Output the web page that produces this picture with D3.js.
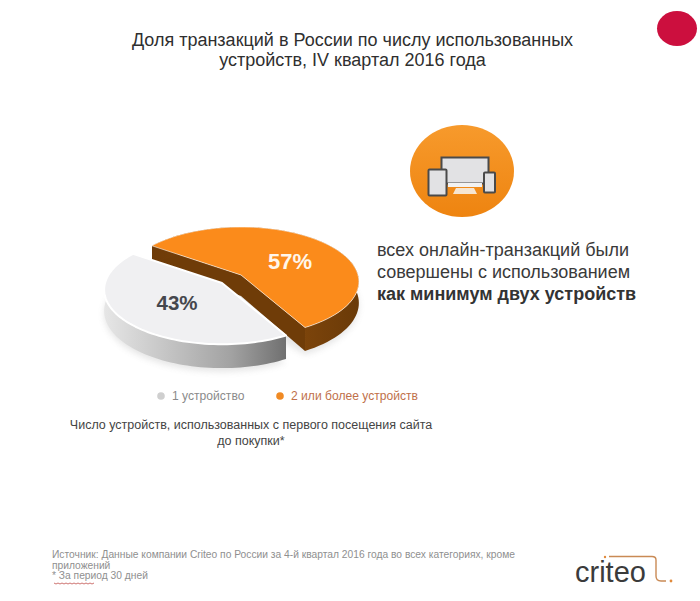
<!DOCTYPE html>
<html><head><meta charset="utf-8">
<script src="https://cdn.jsdelivr.net/npm/d3@7"></script>
<style>html,body{margin:0;padding:0;background:#fff}svg{display:block}text{font-family:"Liberation Sans",Arial,sans-serif}</style>
</head><body><svg id="c" width="700" height="601"></svg>
<script>
const categories = ["2 или более устройств", "1 устройство"];
const values = [57, 43];
const valueLabels = ["57%", "43%"];
const titleLines = ["Доля транзакций в России по числу использованных", "устройств, IV квартал 2016 года"];
const calloutLines = ["всех онлайн-транзакций были", "совершены с использованием", "как минимум двух устройств"];
const captionLines = ["Число устройств, использованных с первого посещения сайта", "до покупки*"];
const sourceLines = ["Источник: Данные компании Criteo по России за 4-й квартал 2016 года во всех категориях, кроме", "приложений", "* За период 30 дней"];

const svg = d3.select("#c");
const defs = svg.append("defs");
function grad(id, stops, x2=1, y2=0){
  const g = defs.append("linearGradient").attr("id",id).attr("x1",0).attr("y1",0).attr("x2",x2).attr("y2",y2);
  stops.forEach(s=>g.append("stop").attr("offset",s[0]).attr("stop-color",s[1]));
}
grad("wallGrey",[[0,"#e6e6e6"],[.3,"#c9c9c9"],[.7,"#a2a2a2"],[1,"#707070"]]);
grad("wallBrown",[[0,"#6e3b08"],[.6,"#85490c"],[1,"#6a3a08"]]);
grad("iconFill",[[0,"#f79a2c"],[1,"#ee8410"]],0,1);
defs.append("filter").attr("id","soft").append("feGaussianBlur").attr("stdDeviation",3);

// pie projected to a tilted disc
const pie = d3.pie().sort(null).startAngle(-54.5*Math.PI/180).endAngle(305.5*Math.PI/180);
const arcs = pie(values);
const R = 116, tilt = .46, k = .12, depth = 21;
function project(fx, fy, z, c){
  const p = 1/(1-k*fy/R);
  return [c[0]+fx*p, c[1]+tilt*fy*p + z*depth*p];
}
const line = d3.line();
const slices = [
  {arc:arcs[0], c:[241,275], r:R+1, top:"#fb8b1b", wall:"url(#wallBrown)", inner:"#6f3c08", edge:"#fff"},
  {arc:arcs[1], c:[222,283], r:R+1, top:"#f0f0f2", wall:"url(#wallGrey)", inner:"#8a8a8a", edge:"#fff"}
];
function rim(s, z){
  const n = 80, pts = [];
  for(let i=0;i<=n;i++){
    const a = s.arc.startAngle+(s.arc.endAngle-s.arc.startAngle)*i/n;
    pts.push(project(s.r*Math.sin(a), -s.r*Math.cos(a), z, s.c));
  }
  return pts;
}
// faint ground shadow
const gs = svg.append("g").attr("filter","url(#soft)").attr("opacity",.18);
slices.forEach(s=>gs.append("path").attr("d",line(rim(s,1.15))+"Z").attr("fill","#777"));

slices.forEach(s=>{
  const g = svg.append("g");
  const top = rim(s,0), bot = rim(s,1);
  const apex0 = project(0,0,0,s.c), apex1 = project(0,0,1,s.c);
  // radial walls
  [0, top.length-1].forEach(i=>{
    g.append("path").attr("d",line([top[i],apex0,apex1,bot[i]])+"Z").attr("fill",s.inner);
  });
  // outer wall
  g.append("path").attr("d",line(top.concat(bot.slice().reverse()))+"Z").attr("fill",s.wall);
  // top face
  g.append("path").attr("d",line([apex0].concat(top))+"Z").attr("fill",s.top)
    .attr("stroke",s.edge).attr("stroke-width",s===slices[1]?2:.6).attr("stroke-linejoin","round");
});

svg.append("text").attr("x",290).attr("y",269).attr("text-anchor","middle").attr("font-size",22).attr("font-weight",700).attr("fill","#fff6ea").text(valueLabels[0]);
svg.append("text").attr("x",177).attr("y",310).attr("text-anchor","middle").attr("font-size",20.5).attr("font-weight",700).attr("fill","#45474d").text(valueLabels[1]);

// title
titleLines.forEach((t,i)=>svg.append("text").attr("x",352.5).attr("y",46+i*19.5).attr("text-anchor","middle").attr("font-size",18).attr("fill","#2f2f2f").text(t));
// red dot
svg.append("ellipse").attr("cx",677).attr("cy",28.5).attr("rx",20).attr("ry",17.5).attr("fill","#cc0f3e");

// device icon
const ic = svg.append("g");
ic.append("ellipse").attr("cx",462).attr("cy",171).attr("rx",52).attr("ry",46).attr("fill","url(#iconFill)");
ic.append("path").attr("d","M456 188h18l3 6h-24z").attr("fill","#f6e6d2");
ic.append("rect").attr("x",441.5).attr("y",157.5).attr("width",47).attr("height",26).attr("fill","#e2e2e4").attr("stroke","#4a4a4a").attr("stroke-width",2);
ic.append("rect").attr("x",448).attr("y",183).attr("width",34).attr("height",4).attr("fill","#f2f2f2");
ic.append("rect").attr("x",428.5).attr("y",169.5).attr("width",18).attr("height",26).attr("rx",1).attr("fill","#e2e2e4").attr("stroke","#4a4a4a").attr("stroke-width",2);
ic.append("rect").attr("x",484).attr("y",172.5).attr("width",11).attr("height",20).attr("rx",1).attr("fill","#e2e2e4").attr("stroke","#4a4a4a").attr("stroke-width",2);

// callout
calloutLines.forEach((t,i)=>svg.append("text").attr("x",377).attr("y",256+i*22).attr("font-size",18).attr("font-weight",i===2?700:400).attr("fill",i===2?"#333":"#3a3a3a").text(t));

// legend
const legend = [{c:"#cfcfcf",t:categories[1],x:161,tx:172,f:"#8a8a8a"},{c:"#f08a24",t:categories[0],x:280,tx:291,f:"#c0704a"}];
legend.forEach(l=>{
  svg.append("circle").attr("cx",l.x).attr("cy",396).attr("r",3.8).attr("fill",l.c);
  svg.append("text").attr("x",l.tx).attr("y",400).attr("font-size",12.1).attr("fill",l.f).text(l.t);
});
captionLines.forEach((t,i)=>svg.append("text").attr("x",251).attr("y",429+i*16).attr("text-anchor","middle").attr("font-size",12.5).attr("fill","#444").text(t));

// source
sourceLines.forEach((t,i)=>svg.append("text").attr("x",52).attr("y",558+i*10.5).attr("font-size",10.25).attr("fill","#8f8f8f").text(t));
const wav = d3.range(0,41,2).map((x,i)=>[54+x, 583+(i%2)]);
svg.append("path").attr("d",line(wav)).attr("fill","none").attr("stroke","#c0504d").attr("stroke-width",.8);

// logo
svg.append("text").attr("x",575).attr("y",582).attr("font-size",29).attr("fill","#3b3b3b").attr("font-family","Open Sans").text("criteo");
svg.append("path").attr("d","M609 556.5H652Q656 556.5 656 560V576Q656 581 661 581H666").attr("fill","none").attr("stroke","#c98a55").attr("stroke-width",1.4);
svg.append("circle").attr("cx",605).attr("cy",557).attr("r",1.2).attr("fill","#e08a3c");
svg.append("circle").attr("cx",671).attr("cy",581).attr("r",1.4).attr("fill","#e08a3c");
</script></body></html>
